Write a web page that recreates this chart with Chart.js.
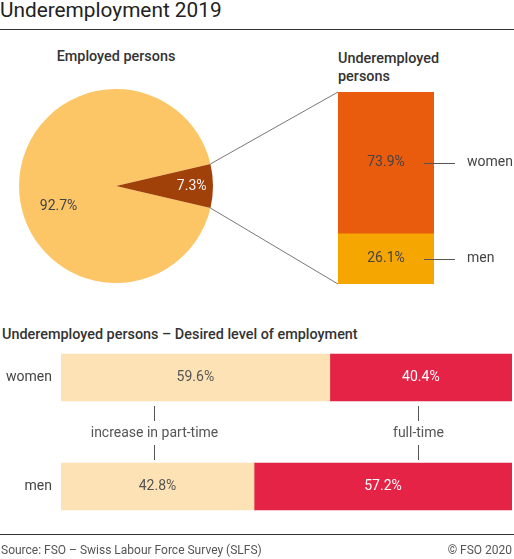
<!DOCTYPE html>
<html>
<head>
<meta charset="utf-8">
<script src="https://cdn.jsdelivr.net/npm/chart.js@4/dist/chart.umd.min.js"></script>
<style>
  body { margin: 0; width: 514px; height: 559px; background: #fff; font-family: Roboto, sans-serif; position: relative; overflow: hidden; color: #444; }
  .t { position: absolute; white-space: nowrap; }
  .rule { position: absolute; left: 0; width: 514px; height: 1px; background: #333; }
  canvas { position: absolute; }
</style>
</head>
<body>
<div class="t" style="left:0;top:0px;font-size:20.8px;line-height:21px;color:#222">Underemployment 2019</div>
<div class="rule" style="top:29px"></div>

<div class="t" style="left:0;width:232px;text-align:center;top:50px;font-size:14.4px;line-height:14px;font-weight:500;color:#333">Employed persons</div>
<div class="t" style="left:338px;top:50px;font-size:14.4px;line-height:18px;font-weight:500;color:#333">Underemployed<br>persons</div>
<div class="t" style="left:2px;top:328px;font-size:14.4px;line-height:14px;font-weight:500;color:#333">Underemployed persons – Desired level of employment</div>

<canvas id="pie" width="232" height="212" style="left:0;top:80px"></canvas>
<canvas id="sex" width="176" height="192" style="left:338px;top:92px"></canvas>
<canvas id="desire" width="514" height="218" style="left:0;top:323px"></canvas>
<canvas id="links" width="514" height="559" style="left:0;top:0"></canvas>

<div class="rule" style="top:534px"></div>
<div class="t" style="left:1px;top:544px;font-size:12px;line-height:13px;color:#555">Source: FSO – Swiss Labour Force Survey (SLFS)</div>
<div class="t" style="right:2px;top:544px;font-size:12px;line-height:13px;color:#555">© FSO 2020</div>

<script>
// employed persons: not underemployed / underemployed
const pieLabels = ["not underemployed", "underemployed"];
const pieValues = [92.7, 7.3];

// underemployed persons by sex
const sexLabels = ["women", "men"];
const sexValues = [73.9, 26.1];

// desired level of employment
const desireCats = ["women", "men"];
const desireLabels = ["increase in part-time", "full-time"];
const partTime = [59.6, 42.8];
const fullTime = [40.4, 57.2];

Chart.defaults.font.family = "Roboto, sans-serif";
Chart.defaults.font.size = 14;
Chart.defaults.animation = false;
Chart.defaults.plugins.legend.display = false;
Chart.defaults.plugins.tooltip.enabled = false;

const fmt = (v) => v.toFixed(1) + "%";

const pieText = {
  id: "pieText",
  afterDatasetsDraw(chart, args, opts) {
    const ctx = chart.ctx;
    ctx.save();
    ctx.font = "14px Roboto, sans-serif";
    ctx.textAlign = "center";
    ctx.textBaseline = "middle";
    chart.getDatasetMeta(0).data.forEach((arc, i) => {
      const mid = (arc.startAngle + arc.endAngle) / 2 + opts.shift[i] * Math.PI / 180;
      const r = arc.outerRadius * opts.radius[i];
      ctx.fillStyle = opts.colors[i];
      ctx.fillText(fmt(pieValues[i]), arc.x + r * Math.cos(mid), arc.y + r * Math.sin(mid));
    });
    ctx.restore();
  },
};

const pieChart = new Chart(document.getElementById("pie"), {
  type: "pie",
  data: {
    labels: pieLabels,
    datasets: [{
      data: pieValues,
      backgroundColor: ["#FCC667", "#A0410A"],
      borderWidth: 0,
    }],
  },
  options: {
    responsive: false,
    rotation: 90 + pieValues[1] / 100 * 180,
    layout: { padding: 9 },
    plugins: {
      pieText: { radius: [0.63, 0.78], shift: [-20, 0], colors: ["#444", "#f4f4f4"] },
    },
  },
  plugins: [pieText],
});

const sexText = {
  id: "sexText",
  afterDatasetsDraw(chart) {
    const ctx = chart.ctx;
    const right = chart.chartArea.right;
    ctx.save();
    ctx.font = "14px Roboto, sans-serif";
    ctx.textBaseline = "middle";
    chart.data.datasets.forEach((ds, i) => {
      const el = chart.getDatasetMeta(i).data[0];
      const cy = (el.y + el.base) / 2;
      ctx.fillStyle = "#444";
      ctx.textAlign = "center";
      ctx.fillText(fmt(ds.data[0]), el.x, cy);
      ctx.strokeStyle = "#555";
      ctx.lineWidth = 1;
      ctx.beginPath();
      ctx.moveTo(right - 10, Math.round(cy) + 0.5);
      ctx.lineTo(right + 21, Math.round(cy) + 0.5);
      ctx.stroke();
      ctx.textAlign = "left";
      ctx.fillText(ds.label, right + 33, cy);
    });
    ctx.restore();
  },
};

// men at the bottom of the stack, women on top
const sexColors = { women: "#E95C0D", men: "#F5A600" };
const sexChart = new Chart(document.getElementById("sex"), {
  type: "bar",
  data: {
    labels: [""],
    datasets: sexLabels.map((s, i) => ({
      label: s,
      data: [sexValues[i]],
      backgroundColor: sexColors[s],
      barPercentage: 1,
      categoryPercentage: 1,
    })).reverse(),
  },
  options: {
    responsive: false,
    layout: { padding: { left: 0, right: 80, top: 0, bottom: 0 } },
    scales: {
      x: { display: false, stacked: true },
      y: { display: false, stacked: true, min: 0, max: 100 },
    },
  },
  plugins: [sexText],
});

const desireText = {
  id: "desireText",
  afterDatasetsDraw(chart, args, opts) {
    const ctx = chart.ctx;
    const xs = chart.scales.x;
    ctx.save();
    ctx.font = "14px Roboto, sans-serif";
    ctx.textAlign = "center";
    ctx.textBaseline = "middle";
    chart.data.datasets.forEach((ds, i) => {
      chart.getDatasetMeta(i).data.forEach((el, j) => {
        ctx.fillStyle = opts.colors[i];
        ctx.fillText(fmt(ds.data[j]), (el.x + el.base) / 2, el.y);
      });
    });
    const els = chart.getDatasetMeta(0).data;
    const top = els[0].y + els[0].height / 2;
    const bottom = els[1].y - els[1].height / 2;
    const mid = (top + bottom) / 2;
    ctx.strokeStyle = "#555";
    ctx.lineWidth = 1;
    desireLabels.forEach((lab, i) => {
      const x = Math.round(xs.getPixelForValue(opts.at[i])) + 0.5;
      ctx.beginPath();
      ctx.moveTo(x, top + 5);
      ctx.lineTo(x, mid - 11);
      ctx.moveTo(x, mid + 13);
      ctx.lineTo(x, bottom - 3);
      ctx.stroke();
      ctx.fillStyle = "#555";
      ctx.fillText(lab, x, mid + 1);
    });
    ctx.restore();
  },
};

const desireChart = new Chart(document.getElementById("desire"), {
  type: "bar",
  data: {
    labels: desireCats,
    datasets: [
      { label: desireLabels[0], data: partTime, backgroundColor: "#FDE2B5" },
      { label: desireLabels[1], data: fullTime, backgroundColor: "#E42346" },
    ],
  },
  options: {
    responsive: false,
    indexAxis: "y",
    barThickness: 47,
    layout: { padding: { left: 0, right: 2, top: 0, bottom: 0 } },
    scales: {
      x: { display: false, stacked: true, min: 0, max: 100 },
      y: {
        stacked: true,
        grid: { display: false, drawTicks: false },
        border: { display: false },
        ticks: { color: "#444", padding: 9, font: { size: 14 } },
        afterFit: (scale) => {
          scale.width = 61;
          scale.paddingTop = 0;
          scale.paddingBottom = 0;
        },
      },
    },
    plugins: {
      desireText: { at: [20.6, 79.2], colors: ["#555", "#fff"] },
    },
  },
  plugins: [desireText],
});

// lines joining the underemployed slice to the stacked bar
function drawLinks() {
  const cv = document.getElementById("links");
  const ctx = cv.getContext("2d");
  const pc = document.getElementById("pie");
  const sc = document.getElementById("sex");
  const arc = pieChart.getDatasetMeta(0).data[1];
  const top = sexChart.getDatasetMeta(sexChart.data.datasets.length - 1).data[0];
  const bottom = sexChart.getDatasetMeta(0).data[0];
  const px = pc.offsetLeft + arc.x, py = pc.offsetTop + arc.y, r = arc.outerRadius;
  const barLeft = sc.offsetLeft + top.x - top.width / 2;
  ctx.strokeStyle = "#555";
  ctx.lineWidth = 0.8;
  ctx.beginPath();
  ctx.moveTo(px + r * Math.cos(arc.startAngle), py + r * Math.sin(arc.startAngle));
  ctx.lineTo(barLeft, sc.offsetTop + top.y);
  ctx.moveTo(px + r * Math.cos(arc.endAngle), py + r * Math.sin(arc.endAngle));
  ctx.lineTo(barLeft, sc.offsetTop + bottom.base);
  ctx.stroke();
}
drawLinks();
</script>
</body>
</html>
